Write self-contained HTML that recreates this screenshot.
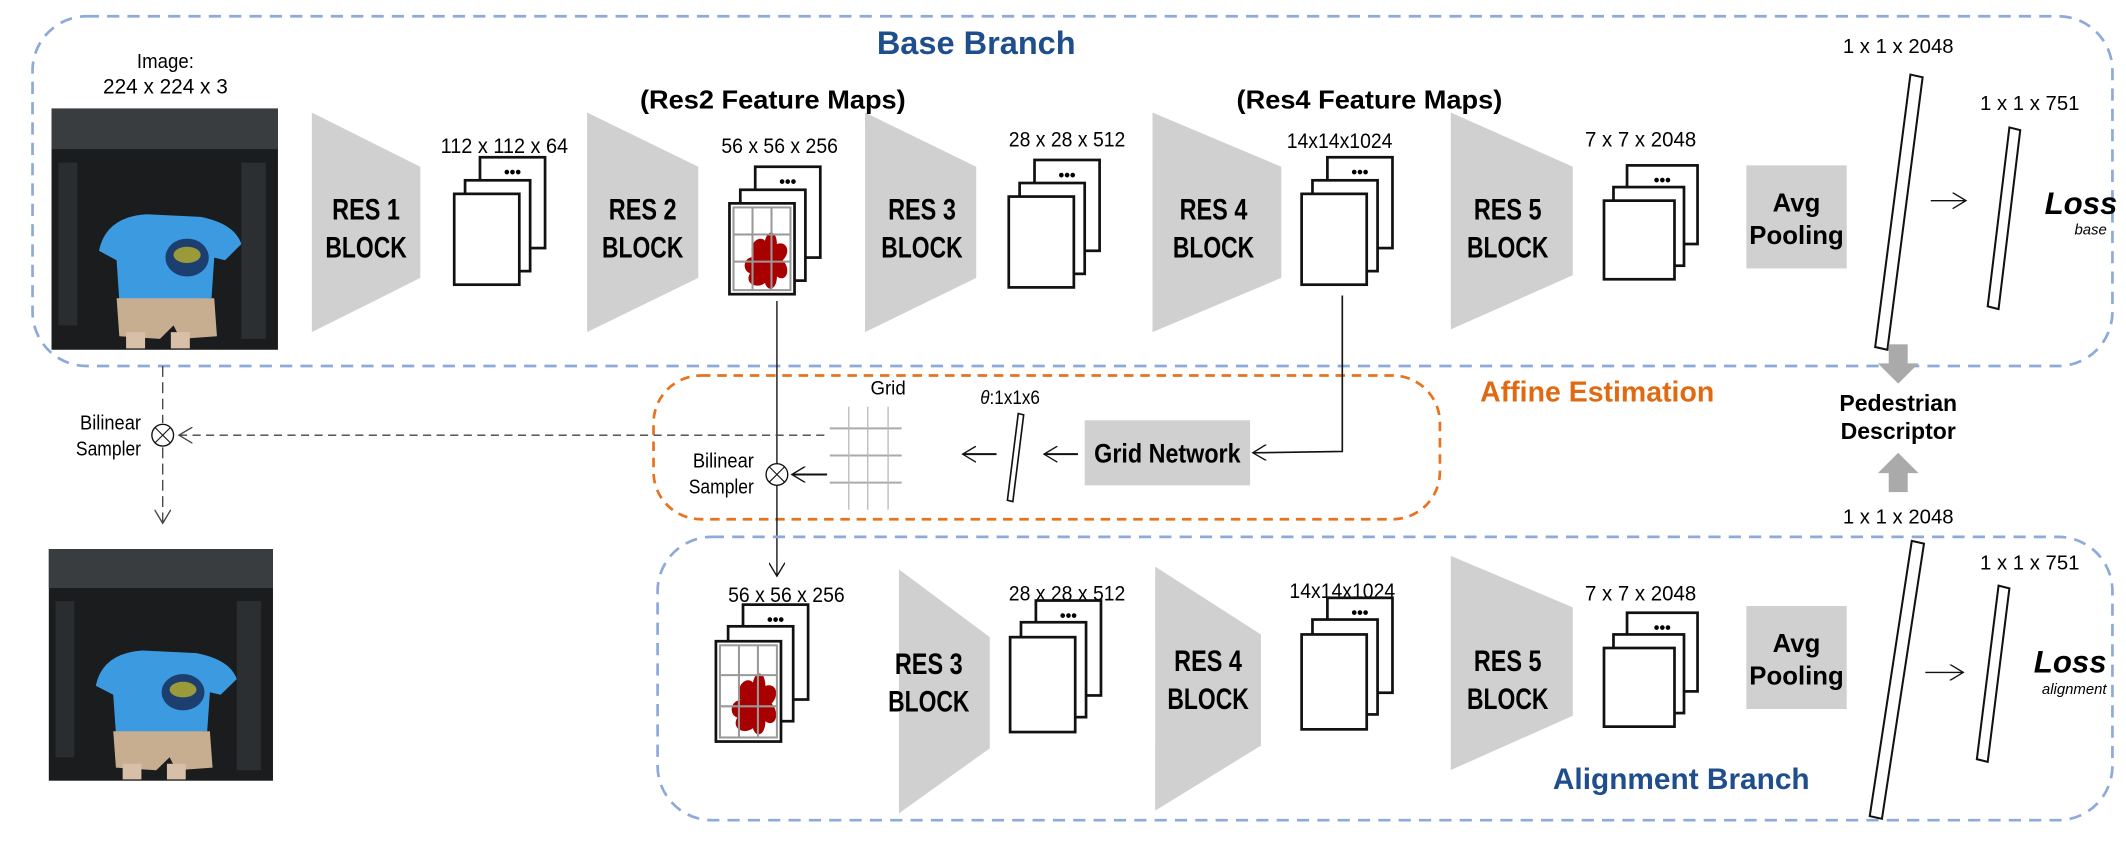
<!DOCTYPE html>
<html><head><meta charset="utf-8"><style>
html,body{margin:0;padding:0;background:#fff;}
svg{display:block;}
.n{font-family:"Liberation Sans Narrow","Liberation Sans",sans-serif;}
.s{font-family:"Liberation Sans",sans-serif;}
</style></head><body>
<svg width="2126" height="850" viewBox="0 0 1568 627" preserveAspectRatio="none" xmlns="http://www.w3.org/2000/svg">
<defs>
<marker id="ah" markerWidth="12" markerHeight="12" refX="10" refY="6" orient="auto" markerUnits="userSpaceOnUse">
<path d="M0,0 L10,6 L0,12" fill="none" stroke="#111" stroke-width="1"/></marker>
<marker id="ahg" markerWidth="12" markerHeight="12" refX="10" refY="6" orient="auto" markerUnits="userSpaceOnUse">
<path d="M0,0 L10,6 L0,12" fill="none" stroke="#444" stroke-width="1"/></marker>
<g id="photo">
<rect x="0" y="0" width="167" height="178" fill="#1a1c1e"/>
<rect x="0" y="0" width="167" height="30" fill="#3a3d3f"/>
<rect x="5" y="40" width="14" height="120" fill="#2a2d30"/>
<rect x="140" y="40" width="18" height="130" fill="#2c2f31"/>
<path d="M35,105 Q40,80 70,78 L110,80 Q135,85 140,100 L128,112 L120,110 L118,140 L50,142 L48,112 Z" fill="#3c9be0"/>
<ellipse cx="100" cy="110" rx="16" ry="14" fill="#1d3f70"/>
<ellipse cx="100" cy="108" rx="10" ry="6" fill="#9a9a3a"/>
<path d="M48,140 L120,140 L122,168 L95,170 L90,160 L80,170 L50,168 Z" fill="#c8ae90"/>
<rect x="55" y="165" width="14" height="12" fill="#d8bfa8"/>
<rect x="88" y="165" width="14" height="12" fill="#d8bfa8"/>
</g>
<g id="blob">
<path d="M14,28 C10,20 18,14 22,18 C24,10 30,12 30,20 C36,18 40,24 34,30 C40,36 36,44 30,40 C30,48 24,50 22,44 C16,48 8,44 12,38 C6,36 8,28 14,28 Z" fill="#a80000"/>
</g>
</defs>

<rect x="24" y="12" width="1534" height="258" rx="40" fill="none" stroke="#8eaadb" stroke-width="2" stroke-dasharray="9 6"/>
<text x="720" y="40" text-anchor="middle" class="s" font-weight="bold" font-size="24" fill="#1f4e8c">Base Branch</text>

<text x="122" y="50" text-anchor="middle" class="n" font-size="15" textLength="42" lengthAdjust="spacingAndGlyphs">Image:</text>
<text x="122" y="69" text-anchor="middle" class="n" font-size="16" textLength="92" lengthAdjust="spacingAndGlyphs">224 x 224 x 3</text>
<use href="#photo" x="38" y="80"/>

<g fill="#d0d0d0">
<polygon points="230,83 310,123 310,205 230,245"/>
<polygon points="433,83 515,123 515,205 433,245"/>
<polygon points="638,83 720,123 720,205 638,245"/>
<polygon points="850,83 945,123 945,205 850,245"/>
<polygon points="1070,83 1160,123 1160,203 1070,243"/>
</g>
<g class="n" font-weight="bold" font-size="22" text-anchor="middle" lengthAdjust="spacingAndGlyphs">
<text x="270" y="162" textLength="50" lengthAdjust="spacingAndGlyphs">RES 1</text><text x="270" y="190" textLength="60" lengthAdjust="spacingAndGlyphs">BLOCK</text>
<text x="474" y="162" textLength="50" lengthAdjust="spacingAndGlyphs">RES 2</text><text x="474" y="190" textLength="60" lengthAdjust="spacingAndGlyphs">BLOCK</text>
<text x="680" y="162" textLength="50" lengthAdjust="spacingAndGlyphs">RES 3</text><text x="680" y="190" textLength="60" lengthAdjust="spacingAndGlyphs">BLOCK</text>
<text x="895" y="162" textLength="50" lengthAdjust="spacingAndGlyphs">RES 4</text><text x="895" y="190" textLength="60" lengthAdjust="spacingAndGlyphs">BLOCK</text>
<text x="1112" y="162" textLength="50" lengthAdjust="spacingAndGlyphs">RES 5</text><text x="1112" y="190" textLength="60" lengthAdjust="spacingAndGlyphs">BLOCK</text>
</g>
<g class="n" font-weight="bold" font-size="19" text-anchor="middle">
<text x="570" y="80" textLength="196" lengthAdjust="spacingAndGlyphs">(Res2 Feature Maps)</text>
<text x="1010" y="80" textLength="196" lengthAdjust="spacingAndGlyphs">(Res4 Feature Maps)</text>
</g>
<g class="n" font-size="16" text-anchor="middle">
<text x="372" y="113" textLength="94" lengthAdjust="spacingAndGlyphs">112 x 112 x 64</text>
<text x="575" y="113" textLength="86" lengthAdjust="spacingAndGlyphs">56 x 56 x 256</text>
<text x="787" y="108" textLength="86" lengthAdjust="spacingAndGlyphs">28 x 28 x 512</text>
<text x="988" y="109" textLength="78" lengthAdjust="spacingAndGlyphs">14x14x1024</text>
<text x="1210" y="108" textLength="82" lengthAdjust="spacingAndGlyphs">7 x 7 x 2048</text>
</g>

<g fill="#fff" stroke="#111" stroke-width="2">
<rect x="354" y="116" width="48" height="67"/><rect x="343" y="133" width="48" height="67"/><rect x="335" y="143" width="48" height="67"/>
<rect x="557" y="123" width="48" height="67"/><rect x="546" y="140" width="48" height="67"/><rect x="538" y="150" width="48" height="67"/>
<rect x="763" y="118" width="48" height="67"/><rect x="752" y="135" width="48" height="67"/><rect x="744" y="145" width="48" height="67"/>
<rect x="979" y="116" width="48" height="67"/><rect x="968" y="133" width="48" height="67"/><rect x="960" y="143" width="48" height="67"/>
<rect x="1200" y="122" width="52" height="58"/><rect x="1190" y="138" width="52" height="58"/><rect x="1183" y="148" width="52" height="58"/>
</g>
<g class="s" font-weight="bold" font-size="12" text-anchor="middle">
<text x="378" y="131">•••</text><text x="581" y="138">•••</text><text x="787" y="133">•••</text><text x="1003" y="131">•••</text><text x="1226" y="137">•••</text>
</g>
<use href="#blob" transform="translate(540 156) scale(1.1 1.2)"/>
<g stroke="#999" stroke-width="1.5" fill="none">
<rect x="541" y="153" width="42" height="61"/>
<line x1="555" y1="153" x2="555" y2="214"/><line x1="569" y1="153" x2="569" y2="214"/>
<line x1="541" y1="173" x2="583" y2="173"/><line x1="541" y1="193" x2="583" y2="193"/>
</g>

<rect x="1288" y="122" width="74" height="76" fill="#d0d0d0"/>
<text x="1325" y="156" text-anchor="middle" class="s" font-weight="bold" font-size="19">Avg</text>
<text x="1325" y="180" text-anchor="middle" class="s" font-weight="bold" font-size="19">Pooling</text>

<text x="1400" y="39" text-anchor="middle" class="s" font-size="15">1 x 1 x 2048</text>
<polygon points="1409,55 1418,57 1392,258 1383,256" fill="#fff" stroke="#111" stroke-width="1.5"/>
<line x1="1424" y1="148" x2="1450" y2="148" stroke="#111" stroke-width="1" marker-end="url(#ah)"/>
<text x="1497" y="81" text-anchor="middle" class="s" font-size="15">1 x 1 x 751</text>
<polygon points="1482,94 1490,96 1474,228 1466,226" fill="#fff" stroke="#111" stroke-width="1.5"/>
<text x="1508" y="158" class="s" font-weight="bold" font-style="italic" font-size="23">Loss</text>
<text x="1530" y="173" class="s" font-style="italic" font-size="11">base</text>

<rect x="1393" y="254" width="14" height="16" fill="#aaa"/>
<polygon points="1385,268 1415,268 1400,283" fill="#aaa"/>
<text x="1400" y="303" text-anchor="middle" class="s" font-weight="bold" font-size="17">Pedestrian</text>
<text x="1400" y="324" text-anchor="middle" class="s" font-weight="bold" font-size="17">Descriptor</text>
<polygon points="1385,349 1415,349 1400,334" fill="#aaa"/>
<rect x="1393" y="347" width="14" height="16" fill="#aaa"/>

<rect x="482" y="277" width="580" height="106" rx="35" fill="none" stroke="#e8731f" stroke-width="2" stroke-dasharray="7 5"/>
<text x="1178" y="296" text-anchor="middle" class="s" font-weight="bold" font-size="21" fill="#e06a12">Affine Estimation</text>
<text x="655" y="291" text-anchor="middle" class="n" font-size="14" textLength="26" lengthAdjust="spacingAndGlyphs">Grid</text>
<g stroke="#aaa" stroke-width="1.5">
<line x1="612" y1="316" x2="665" y2="316"/><line x1="612" y1="336" x2="665" y2="336"/><line x1="612" y1="356" x2="665" y2="356"/>
</g>
<g stroke="#bbb" stroke-width="1">
<line x1="626" y1="300" x2="626" y2="376"/><line x1="640" y1="300" x2="640" y2="376"/><line x1="655" y1="300" x2="655" y2="376"/>
</g>
<text x="745" y="298" text-anchor="middle" class="n" font-size="14" textLength="44" lengthAdjust="spacingAndGlyphs"><tspan font-style="italic">θ</tspan>:1x1x6</text>
<polygon points="751,305 755,306 747,370 743,369" fill="#fff" stroke="#111" stroke-width="1.2"/>
<line x1="735" y1="335" x2="710" y2="335" stroke="#111" stroke-width="1.5" marker-end="url(#ah)"/>
<line x1="795" y1="335" x2="770" y2="335" stroke="#111" stroke-width="1.5" marker-end="url(#ah)"/>
<rect x="800" y="310" width="122" height="48" fill="#d0d0d0"/>
<text x="861" y="341" text-anchor="middle" class="n" font-weight="bold" font-size="20" textLength="108" lengthAdjust="spacingAndGlyphs">Grid Network</text>
<polyline points="990,218 990,333 924,334" fill="none" stroke="#111" stroke-width="1.2" marker-end="url(#ah)"/>

<line x1="573" y1="222" x2="573" y2="425" stroke="#111" stroke-width="1" marker-end="url(#ah)"/>
<circle cx="573" cy="350" r="8" fill="#fff" stroke="#111" stroke-width="1"/>
<line x1="567.5" y1="344.5" x2="578.5" y2="355.5" stroke="#111" stroke-width="0.8"/>
<line x1="578.5" y1="344.5" x2="567.5" y2="355.5" stroke="#111" stroke-width="0.8"/>
<line x1="610" y1="350" x2="584" y2="350" stroke="#111" stroke-width="1.5" marker-end="url(#ah)"/>
<text x="556" y="345" text-anchor="end" class="n" font-size="15" textLength="45" lengthAdjust="spacingAndGlyphs">Bilinear</text>
<text x="556" y="364" text-anchor="end" class="n" font-size="15" textLength="48" lengthAdjust="spacingAndGlyphs">Sampler</text>

<line x1="608" y1="321" x2="132" y2="321" stroke="#444" stroke-width="1" stroke-dasharray="6 4" marker-end="url(#ahg)"/>
<line x1="120" y1="270" x2="120" y2="312" stroke="#444" stroke-width="1" stroke-dasharray="8 4"/>
<circle cx="120" cy="321" r="8" fill="#fff" stroke="#111" stroke-width="1"/>
<line x1="114.5" y1="315.5" x2="125.5" y2="326.5" stroke="#111" stroke-width="0.8"/>
<line x1="125.5" y1="315.5" x2="114.5" y2="326.5" stroke="#111" stroke-width="0.8"/>
<line x1="120" y1="330" x2="120" y2="386" stroke="#444" stroke-width="1" stroke-dasharray="8 4" marker-end="url(#ahg)"/>
<text x="104" y="317" text-anchor="end" class="n" font-size="15" textLength="45" lengthAdjust="spacingAndGlyphs">Bilinear</text>
<text x="104" y="336" text-anchor="end" class="n" font-size="15" textLength="48" lengthAdjust="spacingAndGlyphs">Sampler</text>
<use href="#photo" transform="translate(36 405) scale(0.99 0.96)"/>

<rect x="485" y="396" width="1073" height="209" rx="40" fill="none" stroke="#8eaadb" stroke-width="2" stroke-dasharray="9 6"/>
<text x="1240" y="582" text-anchor="middle" class="s" font-weight="bold" font-size="22" fill="#1f4e8c">Alignment Branch</text>
<g fill="#d0d0d0">
<polygon points="663,420 730,470 730,552 663,600"/>
<polygon points="852,418 930,468 930,550 852,598"/>
<polygon points="1070,410 1160,448 1160,528 1070,568"/>
</g>
<g class="n" font-weight="bold" font-size="22" text-anchor="middle">
<text x="685" y="497" textLength="50" lengthAdjust="spacingAndGlyphs">RES 3</text><text x="685" y="525" textLength="60" lengthAdjust="spacingAndGlyphs">BLOCK</text>
<text x="891" y="495" textLength="50" lengthAdjust="spacingAndGlyphs">RES 4</text><text x="891" y="523" textLength="60" lengthAdjust="spacingAndGlyphs">BLOCK</text>
<text x="1112" y="495" textLength="50" lengthAdjust="spacingAndGlyphs">RES 5</text><text x="1112" y="523" textLength="60" lengthAdjust="spacingAndGlyphs">BLOCK</text>
</g>
<g class="n" font-size="16" text-anchor="middle">
<text x="580" y="444" textLength="86" lengthAdjust="spacingAndGlyphs">56 x 56 x 256</text>
<text x="787" y="443" textLength="86" lengthAdjust="spacingAndGlyphs">28 x 28 x 512</text>
<text x="990" y="441" textLength="78" lengthAdjust="spacingAndGlyphs">14x14x1024</text>
<text x="1210" y="443" textLength="82" lengthAdjust="spacingAndGlyphs">7 x 7 x 2048</text>
</g>
<g fill="#fff" stroke="#111" stroke-width="2">
<rect x="548" y="446" width="48" height="70"/><rect x="537" y="462" width="48" height="70"/><rect x="528" y="473" width="48" height="74"/>
<rect x="764" y="443" width="48" height="70"/><rect x="753" y="459" width="48" height="70"/><rect x="745" y="470" width="48" height="70"/>
<rect x="979" y="441" width="48" height="70"/><rect x="968" y="457" width="48" height="70"/><rect x="960" y="468" width="48" height="70"/>
<rect x="1200" y="452" width="52" height="58"/><rect x="1190" y="468" width="52" height="58"/><rect x="1183" y="478" width="52" height="58"/>
</g>
<g class="s" font-weight="bold" font-size="12" text-anchor="middle">
<text x="572" y="461">•••</text><text x="788" y="458">•••</text><text x="1003" y="456">•••</text><text x="1226" y="467">•••</text>
</g>
<use href="#blob" transform="translate(530 480) scale(1.15 1.3)"/>
<g stroke="#999" stroke-width="1.5" fill="none">
<rect x="531" y="476" width="42" height="68"/>
<line x1="545" y1="476" x2="545" y2="544"/><line x1="559" y1="476" x2="559" y2="544"/>
<line x1="531" y1="498" x2="573" y2="498"/><line x1="531" y1="521" x2="573" y2="521"/>
</g>

<rect x="1288" y="447" width="74" height="76" fill="#d0d0d0"/>
<text x="1325" y="481" text-anchor="middle" class="s" font-weight="bold" font-size="19">Avg</text>
<text x="1325" y="505" text-anchor="middle" class="s" font-weight="bold" font-size="19">Pooling</text>
<text x="1400" y="386" text-anchor="middle" class="s" font-size="15">1 x 1 x 2048</text>
<polygon points="1410,399 1419,401 1388,604 1379,602" fill="#fff" stroke="#111" stroke-width="1.5"/>
<line x1="1420" y1="496" x2="1448" y2="496" stroke="#111" stroke-width="1" marker-end="url(#ah)"/>
<text x="1497" y="420" text-anchor="middle" class="s" font-size="15">1 x 1 x 751</text>
<polygon points="1474,432 1482,434 1466,562 1458,560" fill="#fff" stroke="#111" stroke-width="1.5"/>
<text x="1500" y="496" class="s" font-weight="bold" font-style="italic" font-size="23">Loss</text>
<text x="1506" y="512" class="s" font-style="italic" font-size="11">alignment</text>
</svg>
</body></html>
